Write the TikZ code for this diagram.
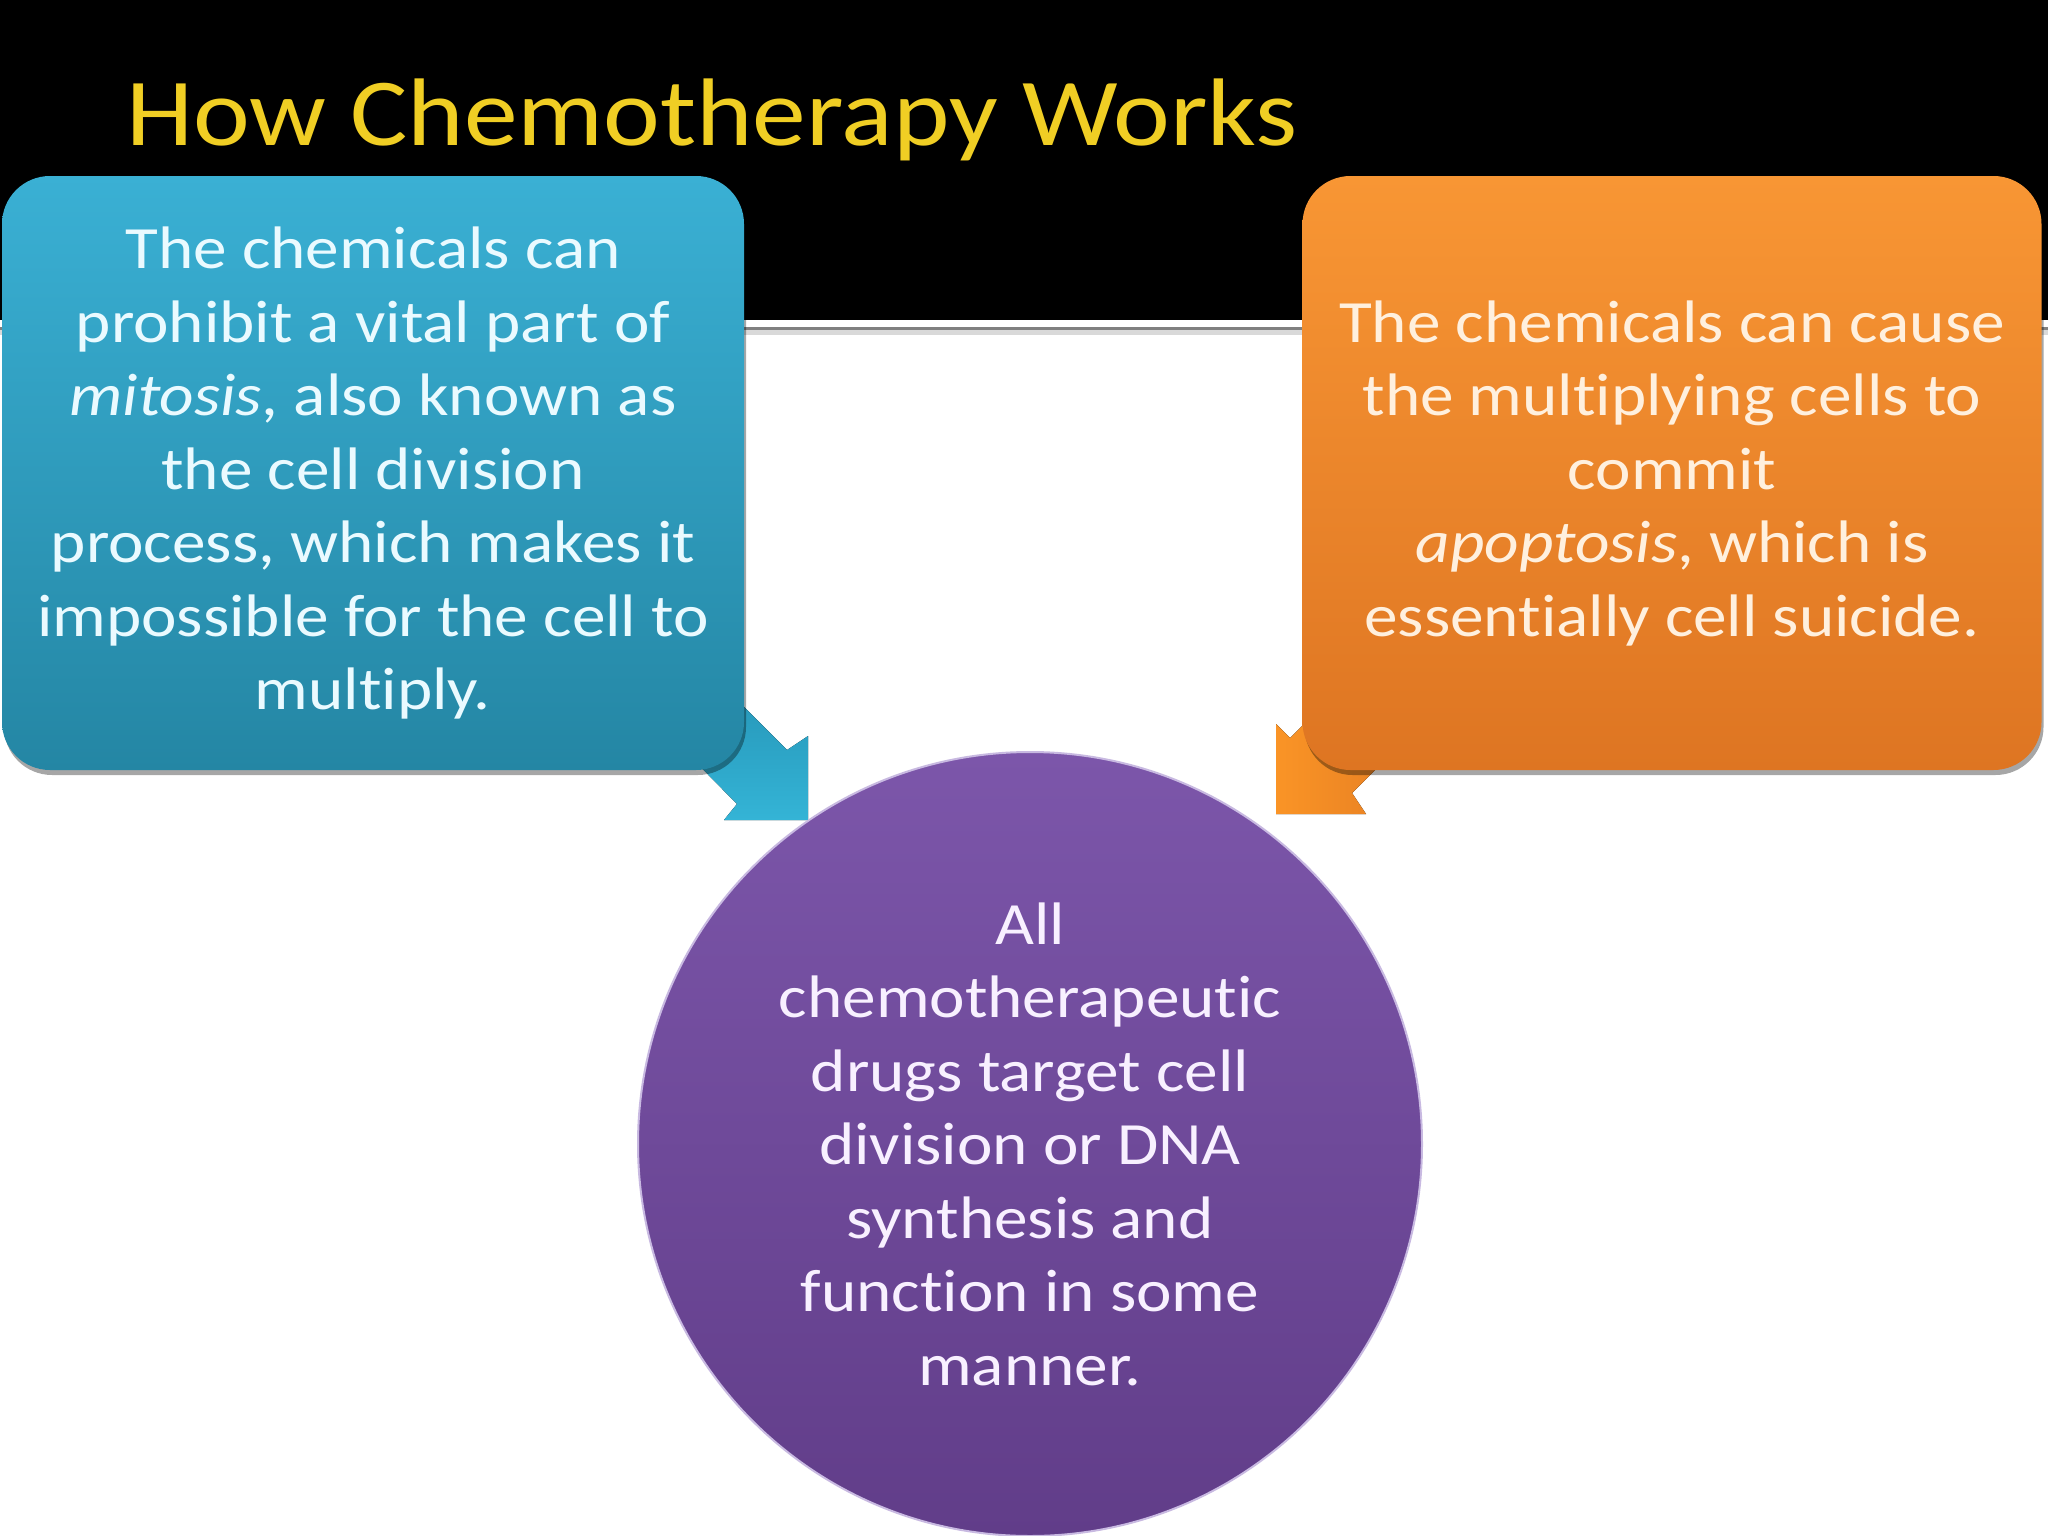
\documentclass[tikz,border=0pt]{standalone}
\usepackage{fontspec}
\setmainfont{Carlito}[FakeStretch=1.12, Ligatures=NoCommon]
\usetikzlibrary{shadows}
\definecolor{titleyellow}{RGB}{240,206,36}
\definecolor{bluetop}{RGB}{58,176,212}
\definecolor{bluebot}{RGB}{36,134,164}
\definecolor{orangetop}{RGB}{248,150,52}
\definecolor{orangebot}{RGB}{222,117,34}
\definecolor{purpletop}{RGB}{124,86,170}
\definecolor{purplebot}{RGB}{97,61,137}
\definecolor{purplerim}{RGB}{200,185,225}
\definecolor{bluetext}{RGB}{234,250,255}
\definecolor{orangetext}{RGB}{255,240,222}
\definecolor{purpletext}{RGB}{248,240,255}
\definecolor{arrowblueA}{RGB}{34,142,176}
\definecolor{arrowblueB}{RGB}{52,180,214}
\definecolor{arroworA}{RGB}{250,148,38}
\definecolor{arroworB}{RGB}{224,120,34}
\begin{document}
\begin{tikzpicture}[x=1pt,y=-1pt,
  bodytext/.style={font=\fontsize{60}{73.5}\selectfont, align=center, inner sep=0pt},
  cardbox/.style={bodytext, rectangle, rounded corners=48pt,
    drop shadow={shadow xshift=2pt, shadow yshift=-5pt, fill=black, opacity=0.35}},
  bluecard/.style={cardbox, top color=bluetop, bottom color=bluebot, text=bluetext},
  orangecard/.style={cardbox, top color=orangetop, bottom color=orangebot, text=orangetext},
  purpledisc/.style={bodytext, circle, draw=purplerim, line width=2pt, top color=purpletop, bottom color=purplebot, text=purpletext},
  titletext/.style={font=\fontsize{96}{110}\selectfont, text=titleyellow, inner sep=0pt, anchor=base west}
]
\useasboundingbox (0,0) rectangle (2048,1536);
\fill[white] (0,0) rectangle (2048,1536);
% black title band
\fill[black] (0,0) rectangle (2048,320);
% divider line
\draw[black!15, line width=5pt] (0,332) -- (2048,332);
\draw[black!50, line width=3pt] (0,328) -- (2048,328);
% arrows (behind the cards)
\fill[top color=arrowblueA, bottom color=arrowblueB]
  (687,650) -- (787,750) -- (808,736) -- (808,820) -- (724,820) -- (737,804) -- (620,685) -- cycle;
\fill[left color=arroworA, right color=arroworB]
  (1348,680) -- (1290,738) -- (1276,724) -- (1276,814) -- (1366,814) -- (1352,793) -- (1445,700) -- cycle;
% cards
\node[bluecard, minimum width=742pt, minimum height=594pt] (left) at (373,473)
  {The chemicals can\\ prohibit a vital part of\\ \textit{mitosis}, also known as\\ the cell division\\ process, which makes it\\ impossible for the cell to\\ multiply.};
\node[orangecard, minimum width=739pt, minimum height=594pt] (right) at (1672,473)
  {The chemicals can cause\\ the multiplying cells to\\ commit\\ \textit{apoptosis}, which is\\ essentially cell suicide.};
\node[purpledisc, minimum size=784pt] (centre) at (1030,1144)
  {All\\ chemotherapeutic\\ drugs target cell\\ division or DNA\\ synthesis and\\ function in some\\ manner.};
% title
\node[titletext] (title) at (126,146) {How Chemotherapy Works};
\end{tikzpicture}
\end{document}
